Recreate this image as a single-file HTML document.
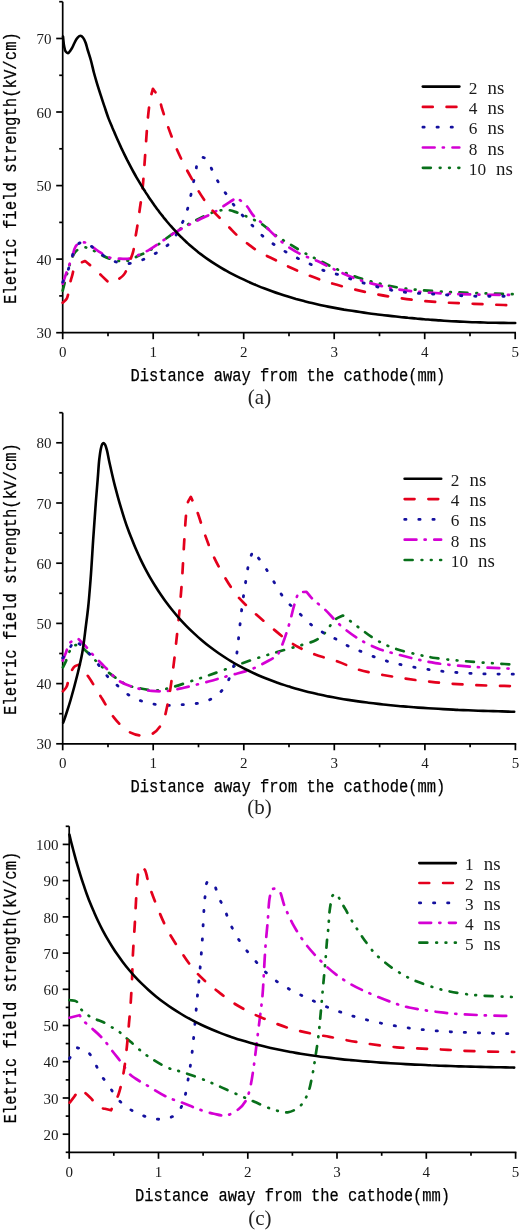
<!DOCTYPE html>
<html><head><meta charset="utf-8"><title>Electric field strength vs distance</title>
<style>
html,body{margin:0;padding:0;background:#fff;}
body{width:520px;height:1231px;overflow:hidden;}
svg{display:block;}
.tk{font-family:"Liberation Serif","Noto Serif CJK SC",serif;font-size:15px;fill:#1a1a1a;}
.lg{font-family:"Liberation Serif","Noto Serif CJK SC",serif;font-size:17.3px;fill:#1a1a1a;}
.lgu{font-family:"Liberation Serif","Noto Serif CJK SC",serif;font-size:18px;fill:#1a1a1a;}
.tt{font-family:"Liberation Mono","Noto Sans CJK SC",monospace;font-size:18.5px;fill:#000;stroke:#000;stroke-width:0.25px;}
.lb{font-family:"Liberation Serif","Noto Serif CJK SC",serif;font-size:21px;fill:#222;}
</style></head>
<body>
<svg width="520" height="1231" viewBox="0 0 520 1231">
<rect width="520" height="1231" fill="#fff"/>
<line x1="62.7" y1="1.7" x2="62.7" y2="332.7" stroke="#000" stroke-width="1.7"/>
<line x1="61.9" y1="332.7" x2="516.0" y2="332.7" stroke="#000" stroke-width="1.7"/>
<line x1="56.2" y1="332.7" x2="62.7" y2="332.7" stroke="#000" stroke-width="1.7"/>
<text x="51.5" y="338.3" class="tk" text-anchor="end">30</text>
<line x1="59.2" y1="295.9" x2="62.7" y2="295.9" stroke="#000" stroke-width="1.7"/>
<line x1="56.2" y1="259.1" x2="62.7" y2="259.1" stroke="#000" stroke-width="1.7"/>
<text x="51.5" y="264.7" class="tk" text-anchor="end">40</text>
<line x1="59.2" y1="222.4" x2="62.7" y2="222.4" stroke="#000" stroke-width="1.7"/>
<line x1="56.2" y1="185.6" x2="62.7" y2="185.6" stroke="#000" stroke-width="1.7"/>
<text x="51.5" y="191.2" class="tk" text-anchor="end">50</text>
<line x1="59.2" y1="148.8" x2="62.7" y2="148.8" stroke="#000" stroke-width="1.7"/>
<line x1="56.2" y1="112.0" x2="62.7" y2="112.0" stroke="#000" stroke-width="1.7"/>
<text x="51.5" y="117.6" class="tk" text-anchor="end">60</text>
<line x1="59.2" y1="75.3" x2="62.7" y2="75.3" stroke="#000" stroke-width="1.7"/>
<line x1="56.2" y1="38.5" x2="62.7" y2="38.5" stroke="#000" stroke-width="1.7"/>
<text x="51.5" y="44.1" class="tk" text-anchor="end">70</text>
<line x1="59.2" y1="1.7" x2="62.7" y2="1.7" stroke="#000" stroke-width="1.7"/>
<line x1="62.7" y1="332.7" x2="62.7" y2="339.2" stroke="#000" stroke-width="1.7"/>
<text x="62.7" y="357.2" class="tk" text-anchor="middle">0</text>
<line x1="108.0" y1="332.7" x2="108.0" y2="336.2" stroke="#000" stroke-width="1.7"/>
<line x1="153.2" y1="332.7" x2="153.2" y2="339.2" stroke="#000" stroke-width="1.7"/>
<text x="153.2" y="357.2" class="tk" text-anchor="middle">1</text>
<line x1="198.5" y1="332.7" x2="198.5" y2="336.2" stroke="#000" stroke-width="1.7"/>
<line x1="243.7" y1="332.7" x2="243.7" y2="339.2" stroke="#000" stroke-width="1.7"/>
<text x="243.7" y="357.2" class="tk" text-anchor="middle">2</text>
<line x1="289.0" y1="332.7" x2="289.0" y2="336.2" stroke="#000" stroke-width="1.7"/>
<line x1="334.2" y1="332.7" x2="334.2" y2="339.2" stroke="#000" stroke-width="1.7"/>
<text x="334.2" y="357.2" class="tk" text-anchor="middle">3</text>
<line x1="379.5" y1="332.7" x2="379.5" y2="336.2" stroke="#000" stroke-width="1.7"/>
<line x1="424.7" y1="332.7" x2="424.7" y2="339.2" stroke="#000" stroke-width="1.7"/>
<text x="424.7" y="357.2" class="tk" text-anchor="middle">4</text>
<line x1="470.0" y1="332.7" x2="470.0" y2="336.2" stroke="#000" stroke-width="1.7"/>
<line x1="515.2" y1="332.7" x2="515.2" y2="339.2" stroke="#000" stroke-width="1.7"/>
<text x="515.2" y="357.2" class="tk" text-anchor="middle">5</text>
<path d="M62.7,290.6 C64.1,285.1 65.5,279.3 67.0,274.0 C68.4,269.2 69.6,264.3 71.2,260.3 C72.5,257.0 73.5,253.8 75.6,251.6 C77.6,249.5 80.8,247.6 83.4,247.3 C85.7,247.0 87.8,248.0 90.3,249.0 C93.7,250.3 97.8,253.3 101.5,255.1 C105.0,256.8 108.4,258.4 111.9,259.4 C115.3,260.4 119.2,261.1 122.3,261.2 C124.8,261.3 126.8,261.0 129.2,260.3 C132.0,259.5 134.8,257.5 137.9,256.0 C141.4,254.3 144.7,253.4 149.1,250.8 C156.5,246.5 168.1,236.4 177.0,230.8 C184.5,226.1 191.7,222.4 198.5,219.0 C204.4,216.1 210.1,213.0 215.4,211.5 C219.7,210.3 223.9,209.7 227.7,210.0 C231.0,210.2 233.7,211.4 236.9,212.5 C240.7,213.8 245.1,215.8 249.2,217.7 C253.3,219.6 257.3,221.1 261.5,223.8 C266.5,227.0 271.9,232.7 276.9,236.2 C281.1,239.2 284.9,241.2 289.2,243.8 C294.0,246.7 299.2,250.0 304.6,253.0 C310.4,256.2 317.5,259.5 323.0,262.3 C327.5,264.6 330.6,266.3 335.4,268.5 C341.9,271.4 349.7,274.9 358.5,277.7 C369.6,281.3 384.1,285.0 397.0,287.3 C409.7,289.5 422.6,290.2 435.4,291.2 C448.2,292.1 460.8,292.5 473.8,293.0 C487.1,293.5 500.7,293.8 514.2,294.2" stroke="#08701a" stroke-width="2.7" fill="none" stroke-linejoin="round" stroke-linecap="round" stroke-dasharray="7.9,9.0,0.7,8.6,0.7,8.6"/>
<path d="M62.7,283.7 C64.7,277.9 66.9,271.1 68.7,266.3 C70.0,262.9 71.0,260.8 72.1,257.7 C73.3,254.2 73.8,249.1 75.6,246.4 C77.0,244.4 79.1,243.5 80.8,242.1 C82.8,242.4 84.6,242.1 86.8,243.0 C90.3,244.4 94.9,249.1 98.9,251.6 C102.7,253.9 106.6,256.6 110.2,257.7 C113.2,258.6 115.8,258.4 118.8,258.6 C122.1,258.8 126.1,259.2 129.2,258.6 C131.8,258.1 133.5,257.1 136.2,256.0 C139.9,254.5 144.2,252.7 149.1,249.9 C156.5,245.7 166.8,237.5 175.4,232.3 C183.2,227.6 191.6,223.5 198.5,220.0 C204.1,217.1 208.8,215.4 213.8,212.5 C219.0,209.5 224.9,205.0 229.2,202.3 C232.2,200.4 234.3,199.2 236.9,197.7 C240.0,200.3 243.4,202.4 246.2,205.4 C249.1,208.5 250.8,212.7 253.8,216.0 C256.9,219.4 261.2,222.2 264.6,225.4 C267.8,228.4 270.4,231.5 273.8,234.6 C277.6,238.1 281.7,242.1 286.2,245.4 C290.9,248.8 296.3,252.0 301.5,254.6 C306.5,257.1 311.8,258.5 316.9,260.8 C322.1,263.1 326.4,265.8 332.3,268.5 C339.8,272.0 348.8,276.4 358.5,279.6 C370.0,283.4 384.1,287.0 397.0,289.2 C409.7,291.4 422.6,292.1 435.4,293.0 C448.2,293.9 460.8,294.2 473.8,294.5 C487.1,294.8 500.7,294.8 514.2,295.0" stroke="#d400d4" stroke-width="2.7" fill="none" stroke-linejoin="round" stroke-linecap="round" stroke-dasharray="11.7,8.2,1.1,8.6"/>
<path d="M62.7,282.0 C64.1,279.1 65.6,276.5 66.9,273.3 C68.5,269.4 69.8,264.7 71.2,260.3 C72.7,255.7 73.4,249.4 75.6,246.4 C77.1,244.4 79.1,243.0 81.0,242.5 C82.6,242.1 84.0,242.2 86.0,243.0 C89.9,244.5 96.8,251.1 101.5,254.2 C105.2,256.6 108.1,258.7 111.9,260.3 C115.9,262.0 120.5,263.5 124.9,263.7 C129.4,263.9 134.5,262.5 138.7,261.2 C142.5,260.1 145.5,258.6 149.1,256.8 C153.3,254.7 158.2,252.1 162.2,249.2 C166.1,246.5 169.8,243.7 172.8,240.1 C175.9,236.4 178.0,231.3 180.2,227.0 C182.2,223.1 184.0,219.6 185.5,215.4 C187.2,210.8 188.5,205.5 189.7,200.6 C190.8,196.0 191.5,191.5 192.5,187.0 C193.4,182.5 194.4,178.0 195.4,173.5 C196.4,169.0 196.6,162.7 198.3,160.0 C199.3,158.4 200.8,158.0 202.0,157.0 C203.5,157.7 205.1,157.7 206.5,159.0 C208.8,161.2 210.6,167.1 212.7,171.2 C214.9,175.4 216.9,179.9 219.4,184.0 C221.9,188.2 225.0,192.3 227.7,196.2 C230.3,199.9 232.6,203.5 235.4,207.0 C238.3,210.6 241.5,214.3 244.6,217.7 C247.6,221.0 250.6,223.8 253.8,227.0 C257.2,230.5 260.9,234.6 264.6,237.7 C268.1,240.6 271.6,242.9 275.4,245.4 C279.3,248.0 283.6,250.7 287.7,253.0 C291.7,255.3 295.6,257.2 299.6,259.2 C303.7,261.2 307.9,263.1 312.1,265.0 C316.3,266.9 320.3,269.2 324.6,270.8 C329.0,272.4 333.2,273.1 338.1,274.6 C344.2,276.5 350.6,279.2 358.5,281.5 C369.3,284.7 384.1,289.1 397.0,291.2 C409.7,293.3 422.6,293.4 435.4,294.2 C448.2,295.0 460.8,295.9 473.8,296.2 C487.1,296.5 500.7,296.2 514.2,296.2" stroke="#14109e" stroke-width="2.8" fill="none" stroke-linejoin="round" stroke-linecap="round" stroke-dasharray="1.3,12.8"/>
<path d="M62.7,302.7 C64.1,301.3 65.8,300.4 66.9,298.4 C68.5,295.4 68.6,289.4 69.5,285.4 C70.3,282.0 71.1,279.1 72.1,275.9 C73.1,272.5 73.4,268.0 75.6,265.5 C77.8,263.1 81.9,262.5 85.1,261.0 C88.0,263.4 90.9,265.8 93.7,268.3 C96.6,270.9 99.6,273.8 102.3,276.4 C104.8,278.8 107.1,281.0 109.5,283.3 C111.3,282.6 112.9,282.4 114.8,281.3 C117.5,279.8 121.6,277.5 124.0,274.5 C126.5,271.3 127.6,266.4 129.2,262.5 C130.6,258.9 132.1,255.7 133.1,251.9 C134.2,247.8 134.5,243.1 135.2,238.7 C135.9,234.2 136.8,229.8 137.5,225.0 C138.3,219.7 139.1,214.1 139.9,208.3 C140.8,202.1 141.8,195.7 142.5,189.2 C143.2,182.4 143.6,175.8 144.2,168.5 C144.8,160.3 145.4,150.9 146.0,142.5 C146.6,134.7 147.0,127.3 147.7,120.0 C148.4,112.9 149.2,104.9 150.3,99.2 C151.1,95.1 152.0,92.3 152.9,88.8 C154.9,91.8 157.5,94.6 159.0,97.9 C160.5,101.2 160.8,104.6 162.0,108.5 C163.6,113.6 165.6,119.8 167.7,125.8 C170.1,132.5 172.8,139.9 175.8,146.9 C178.8,154.0 182.4,161.4 185.8,168.0 C189.0,174.1 193.4,181.5 195.5,185.4 C196.6,187.4 196.8,188.1 197.9,190.0 C200.0,193.6 204.7,200.8 207.7,204.8 C209.9,207.8 211.7,209.7 214.0,212.2 C216.6,215.0 219.9,218.1 222.5,220.7 C224.8,223.0 226.5,224.6 228.9,227.0 C232.0,230.1 236.0,234.6 239.4,237.6 C242.3,240.1 244.9,241.7 247.9,243.9 C251.2,246.3 254.4,249.0 258.5,251.5 C263.7,254.6 271.4,258.0 276.9,260.8 C281.4,263.1 284.1,264.7 289.2,267.0 C297.1,270.6 309.0,275.8 320.0,279.6 C332.0,283.7 345.6,287.4 358.5,290.4 C371.3,293.4 384.1,295.8 397.0,297.7 C409.8,299.6 422.6,300.9 435.4,301.9 C448.2,302.9 460.8,303.2 473.8,303.8 C487.1,304.4 500.7,304.9 514.2,305.4" stroke="#e4001c" stroke-width="2.7" fill="none" stroke-linejoin="round" stroke-linecap="round" stroke-dasharray="9.8,13.9"/>
<path d="M63.0,36.5 C63.4,39.8 63.6,43.8 64.2,46.5 C64.6,48.5 64.9,50.4 65.7,51.5 C66.3,52.3 67.2,53.2 68.0,53.1 C69.0,53.0 70.1,51.0 71.1,49.6 C72.3,47.9 73.2,45.5 74.2,43.5 C75.2,41.6 76.0,39.4 77.2,38.1 C78.1,37.0 79.3,35.8 80.3,35.8 C81.3,35.8 82.4,36.8 83.2,37.8 C84.3,39.0 85.0,41.1 85.7,43.0 C86.5,45.1 86.9,47.5 87.7,50.0 C88.6,53.0 89.8,56.5 90.8,60.0 C91.9,63.9 92.8,68.3 93.8,72.3 C94.8,76.0 95.8,79.4 96.9,83.1 C98.1,87.1 99.5,91.4 100.8,95.4 C102.1,99.3 103.3,103.1 104.6,106.9 C105.9,110.8 107.2,114.9 108.6,118.6 C109.9,121.9 111.3,125.0 112.5,127.9 C113.6,130.4 114.5,132.7 115.5,135.0 C116.5,137.3 117.5,139.6 118.5,141.8 C119.5,144.0 120.5,146.2 121.5,148.4 C122.5,150.5 123.5,152.5 124.5,154.6 C125.5,156.6 126.5,158.7 127.5,160.7 C128.5,162.6 129.5,164.5 130.5,166.4 C131.5,168.3 132.5,170.2 133.5,172.0 C134.5,173.8 135.5,175.6 136.5,177.3 C137.5,179.0 138.5,180.7 139.5,182.4 C140.5,184.1 141.5,185.8 142.5,187.4 C143.5,189.0 144.5,190.5 145.5,192.1 C146.5,193.6 147.5,195.2 148.5,196.7 C149.5,198.2 150.5,199.6 151.5,201.1 C152.5,202.5 153.5,204.0 154.5,205.4 C155.5,206.8 156.5,208.1 157.5,209.5 C158.5,210.8 159.5,212.2 160.5,213.5 C161.5,214.8 162.5,216.0 163.5,217.3 C164.5,218.5 165.5,219.8 166.5,221.0 C167.5,222.2 168.5,223.3 169.5,224.5 C170.5,225.6 171.5,226.8 172.5,227.9 C173.5,229.0 174.5,230.1 175.5,231.2 C176.5,232.3 177.5,233.3 178.5,234.3 C179.5,235.3 180.5,236.4 181.5,237.4 C182.5,238.4 183.5,239.3 184.5,240.3 C185.5,241.2 186.5,242.2 187.5,243.1 C188.5,244.0 189.5,244.8 190.5,245.7 C191.5,246.6 192.5,247.4 193.5,248.3 C194.5,249.1 195.5,250.0 196.5,250.8 C197.5,251.6 198.9,252.7 199.5,253.2 C199.7,253.4 199.7,253.4 200.0,253.6 C201.1,254.4 205.3,257.5 208.0,259.4 C210.6,261.2 213.3,263.0 216.0,264.7 C218.6,266.4 221.3,268.0 224.0,269.5 C226.7,271.0 229.3,272.5 232.0,273.9 C234.7,275.3 237.3,276.6 240.0,277.9 C242.7,279.2 245.3,280.4 248.0,281.6 C250.7,282.8 253.3,284.0 256.0,285.1 C258.7,286.2 261.3,287.3 264.0,288.3 C266.7,289.3 269.3,290.3 272.0,291.3 C274.7,292.3 277.3,293.2 280.0,294.1 C282.7,295.0 285.3,295.8 288.0,296.6 C290.7,297.4 293.3,298.2 296.0,299.0 C298.7,299.7 301.3,300.4 304.0,301.1 C306.7,301.8 309.3,302.5 312.0,303.1 C314.7,303.7 317.3,304.3 320.0,304.9 C322.7,305.5 325.3,306.1 328.0,306.6 C330.7,307.1 333.3,307.6 336.0,308.1 C338.7,308.6 341.3,309.1 344.0,309.6 C346.7,310.0 349.3,310.4 352.0,310.8 C354.7,311.2 357.3,311.6 360.0,312.0 C362.7,312.4 365.3,312.8 368.0,313.2 C370.7,313.6 373.3,313.9 376.0,314.2 C378.7,314.5 381.3,314.9 384.0,315.2 C386.7,315.5 389.3,315.8 392.0,316.1 C394.7,316.4 397.3,316.7 400.0,317.0 C402.7,317.3 405.3,317.5 408.0,317.8 C410.7,318.0 413.3,318.3 416.0,318.5 C418.7,318.7 421.3,319.0 424.0,319.2 C426.7,319.4 429.3,319.7 432.0,319.9 C434.7,320.1 437.3,320.2 440.0,320.4 C442.7,320.6 445.3,320.8 448.0,321.0 C450.7,321.2 453.3,321.3 456.0,321.4 C458.7,321.5 461.3,321.7 464.0,321.8 C466.7,321.9 469.3,322.1 472.0,322.2 C474.7,322.3 477.3,322.3 480.0,322.4 C482.7,322.5 485.3,322.6 488.0,322.7 C490.7,322.8 493.3,322.8 496.0,322.8 C498.7,322.8 501.3,322.9 504.0,322.9 C506.7,322.9 509.9,323.0 512.0,323.0 C513.3,323.0 514.1,323.0 515.2,323.0" stroke="#000000" stroke-width="2.6" fill="none" stroke-linejoin="round" stroke-linecap="round"/>
<line x1="422.8" y1="86.6" x2="459.4" y2="86.6" stroke="#000000" stroke-width="2.6" stroke-linecap="round"/>
<text x="468.8" y="93.6" class="lg">2</text>
<text x="487.5" y="93.6" class="lgu" textLength="16.8" lengthAdjust="spacingAndGlyphs">ns</text>
<line x1="422.9" y1="106.9" x2="459.3" y2="106.9" stroke="#e4001c" stroke-width="2.7" stroke-linecap="round" stroke-dasharray="9.8,13.9"/>
<text x="468.8" y="113.9" class="lg">4</text>
<text x="487.5" y="113.9" class="lgu" textLength="16.8" lengthAdjust="spacingAndGlyphs">ns</text>
<line x1="422.9" y1="127.2" x2="459.3" y2="127.2" stroke="#14109e" stroke-width="2.8" stroke-linecap="round" stroke-dasharray="1.3,12.8"/>
<text x="468.8" y="134.2" class="lg">6</text>
<text x="487.5" y="134.2" class="lgu" textLength="16.8" lengthAdjust="spacingAndGlyphs">ns</text>
<line x1="422.9" y1="147.5" x2="459.3" y2="147.5" stroke="#d400d4" stroke-width="2.7" stroke-linecap="round" stroke-dasharray="11.7,8.2,1.1,8.6"/>
<text x="468.8" y="154.5" class="lg">8</text>
<text x="487.5" y="154.5" class="lgu" textLength="16.8" lengthAdjust="spacingAndGlyphs">ns</text>
<line x1="422.9" y1="167.8" x2="459.3" y2="167.8" stroke="#08701a" stroke-width="2.7" stroke-linecap="round" stroke-dasharray="7.9,9.0,0.7,8.6,0.7,8.6"/>
<text x="468.8" y="174.8" class="lg">10</text>
<text x="496.1" y="174.8" class="lgu" textLength="16.8" lengthAdjust="spacingAndGlyphs">ns</text>
<text x="130.4" y="381.3" class="tt" textLength="315" lengthAdjust="spacingAndGlyphs">Distance away from the cathode(mm)</text>
<text x="16.2" y="304.1" class="tt" transform="rotate(-90 16.2 304.1)" textLength="272" lengthAdjust="spacingAndGlyphs">Eletric field strength(kV/cm)</text>
<text x="259.5" y="403.5" class="lb" text-anchor="middle">(a)</text>
<line x1="62.7" y1="412.7" x2="62.7" y2="743.8" stroke="#000" stroke-width="1.7"/>
<line x1="61.9" y1="743.8" x2="516.2" y2="743.8" stroke="#000" stroke-width="1.7"/>
<line x1="56.2" y1="743.8" x2="62.7" y2="743.8" stroke="#000" stroke-width="1.7"/>
<text x="51.5" y="749.4" class="tk" text-anchor="end">30</text>
<line x1="59.2" y1="713.7" x2="62.7" y2="713.7" stroke="#000" stroke-width="1.7"/>
<line x1="56.2" y1="683.6" x2="62.7" y2="683.6" stroke="#000" stroke-width="1.7"/>
<text x="51.5" y="689.2" class="tk" text-anchor="end">40</text>
<line x1="59.2" y1="653.5" x2="62.7" y2="653.5" stroke="#000" stroke-width="1.7"/>
<line x1="56.2" y1="623.4" x2="62.7" y2="623.4" stroke="#000" stroke-width="1.7"/>
<text x="51.5" y="629.0" class="tk" text-anchor="end">50</text>
<line x1="59.2" y1="593.3" x2="62.7" y2="593.3" stroke="#000" stroke-width="1.7"/>
<line x1="56.2" y1="563.2" x2="62.7" y2="563.2" stroke="#000" stroke-width="1.7"/>
<text x="51.5" y="568.8" class="tk" text-anchor="end">60</text>
<line x1="59.2" y1="533.1" x2="62.7" y2="533.1" stroke="#000" stroke-width="1.7"/>
<line x1="56.2" y1="503.0" x2="62.7" y2="503.0" stroke="#000" stroke-width="1.7"/>
<text x="51.5" y="508.6" class="tk" text-anchor="end">70</text>
<line x1="59.2" y1="472.9" x2="62.7" y2="472.9" stroke="#000" stroke-width="1.7"/>
<line x1="56.2" y1="442.8" x2="62.7" y2="442.8" stroke="#000" stroke-width="1.7"/>
<text x="51.5" y="448.4" class="tk" text-anchor="end">80</text>
<line x1="59.2" y1="412.7" x2="62.7" y2="412.7" stroke="#000" stroke-width="1.7"/>
<line x1="62.7" y1="743.8" x2="62.7" y2="750.3" stroke="#000" stroke-width="1.7"/>
<text x="62.7" y="768.3" class="tk" text-anchor="middle">0</text>
<line x1="108.0" y1="743.8" x2="108.0" y2="747.3" stroke="#000" stroke-width="1.7"/>
<line x1="153.2" y1="743.8" x2="153.2" y2="750.3" stroke="#000" stroke-width="1.7"/>
<text x="153.2" y="768.3" class="tk" text-anchor="middle">1</text>
<line x1="198.5" y1="743.8" x2="198.5" y2="747.3" stroke="#000" stroke-width="1.7"/>
<line x1="243.8" y1="743.8" x2="243.8" y2="750.3" stroke="#000" stroke-width="1.7"/>
<text x="243.8" y="768.3" class="tk" text-anchor="middle">2</text>
<line x1="289.0" y1="743.8" x2="289.0" y2="747.3" stroke="#000" stroke-width="1.7"/>
<line x1="334.3" y1="743.8" x2="334.3" y2="750.3" stroke="#000" stroke-width="1.7"/>
<text x="334.3" y="768.3" class="tk" text-anchor="middle">3</text>
<line x1="379.6" y1="743.8" x2="379.6" y2="747.3" stroke="#000" stroke-width="1.7"/>
<line x1="424.9" y1="743.8" x2="424.9" y2="750.3" stroke="#000" stroke-width="1.7"/>
<text x="424.9" y="768.3" class="tk" text-anchor="middle">4</text>
<line x1="470.1" y1="743.8" x2="470.1" y2="747.3" stroke="#000" stroke-width="1.7"/>
<line x1="515.4" y1="743.8" x2="515.4" y2="750.3" stroke="#000" stroke-width="1.7"/>
<text x="515.4" y="768.3" class="tk" text-anchor="middle">5</text>
<path d="M62.9,667.3 C63.9,665.4 64.9,663.7 65.8,661.5 C66.9,658.8 67.7,655.1 69.1,652.4 C70.3,649.9 71.6,646.9 73.5,645.7 C75.1,644.7 77.3,645.2 79.2,645.0 C81.5,647.0 83.8,648.9 86.0,651.0 C88.3,653.1 90.5,655.5 92.7,657.7 C94.9,659.9 97.0,662.1 99.4,664.4 C102.1,666.9 104.5,669.3 108.1,672.1 C113.1,676.0 121.2,682.3 127.3,685.0 C132.0,687.1 136.1,687.6 140.8,688.5 C145.9,689.5 151.9,690.6 157.0,690.4 C161.7,690.2 165.5,689.0 170.4,687.7 C176.4,686.2 183.6,683.6 190.0,681.5 C196.3,679.5 202.1,677.6 208.5,675.4 C215.4,673.0 222.8,670.3 230.0,667.7 C237.2,665.1 244.1,662.5 251.5,660.0 C259.4,657.3 268.2,654.7 276.2,652.3 C283.6,650.1 290.8,648.3 297.7,646.2 C304.1,644.2 311.3,642.7 316.2,640.0 C320.0,637.8 322.5,635.4 325.4,632.3 C328.7,628.8 331.3,622.9 334.6,620.0 C337.2,617.7 340.2,617.0 343.0,615.5 C348.2,619.4 353.0,623.3 358.5,627.3 C364.5,631.7 371.1,637.1 377.7,640.8 C383.9,644.3 390.4,647.0 396.9,649.2 C403.2,651.4 409.8,652.7 416.2,654.2 C422.6,655.7 427.9,656.9 435.4,658.0 C446.0,659.6 460.8,660.8 473.8,661.9 C487.1,663.0 500.7,663.7 514.2,664.6" stroke="#08701a" stroke-width="2.7" fill="none" stroke-linejoin="round" stroke-linecap="round" stroke-dasharray="7.9,9.0,0.7,8.6,0.7,8.6"/>
<path d="M62.7,660.6 C63.7,658.0 64.7,655.6 65.8,652.9 C67.0,649.9 68.0,645.4 69.6,643.3 C70.7,641.8 72.1,641.2 73.5,640.4 C74.9,639.6 76.4,639.0 77.8,638.3 C80.5,641.1 83.6,643.9 86.0,646.6 C88.1,648.9 89.6,651.0 91.7,653.4 C94.3,656.3 97.8,659.8 100.4,662.5 C102.5,664.7 103.9,666.0 106.2,668.3 C109.7,671.7 114.3,677.8 119.2,681.0 C124.0,684.2 129.9,686.0 135.4,687.7 C140.7,689.3 146.1,690.4 151.5,690.9 C156.9,691.4 162.3,691.4 167.7,690.9 C173.1,690.4 178.0,689.0 183.9,687.7 C191.3,686.0 200.6,683.6 208.5,681.5 C215.9,679.5 222.8,677.4 230.0,675.4 C237.2,673.3 244.1,672.1 251.5,669.2 C259.9,665.9 268.8,660.3 277.5,655.8 C278.6,653.3 279.7,650.9 280.8,648.3 C282.0,645.4 283.2,642.3 284.3,639.2 C285.4,636.1 286.5,632.8 287.5,629.6 C288.5,626.4 289.5,623.4 290.4,620.0 C291.4,616.4 292.3,612.2 293.3,608.5 C294.2,605.1 295.3,601.7 296.2,598.8 C297.0,596.4 297.7,594.5 298.5,592.3 C301.2,592.1 303.8,592.0 306.5,591.8 C308.2,593.8 309.9,596.2 311.5,597.9 C312.8,599.3 313.8,600.1 315.4,601.5 C317.8,603.6 321.2,606.1 324.6,609.2 C329.2,613.4 334.4,620.1 340.0,625.0 C345.7,630.0 352.1,634.8 358.5,638.8 C364.7,642.6 371.2,645.9 377.7,648.5 C384.0,651.0 390.5,652.4 396.9,654.2 C403.3,656.0 409.8,657.7 416.2,659.2 C422.6,660.7 427.9,662.0 435.4,663.1 C446.0,664.7 460.8,666.0 473.8,666.9 C487.1,667.9 500.7,668.2 514.2,668.8" stroke="#d400d4" stroke-width="2.7" fill="none" stroke-linejoin="round" stroke-linecap="round" stroke-dasharray="11.7,8.2,1.1,8.6"/>
<path d="M62.7,658.0 C63.1,657.6 63.3,657.3 63.8,656.7 C64.9,655.3 67.1,652.5 68.7,650.0 C70.6,646.9 72.6,643.0 74.5,639.5 C78.6,643.3 82.8,646.6 86.9,651.0 C91.7,656.0 97.2,663.2 101.3,668.3 C104.5,672.2 107.1,676.3 109.5,678.8 C111.1,680.4 111.9,680.7 113.8,682.3 C117.5,685.3 124.3,692.4 130.0,695.8 C135.2,698.9 140.7,700.9 146.2,702.5 C151.5,704.0 157.2,704.8 162.3,705.2 C167.0,705.6 171.3,705.4 175.8,705.2 C180.3,705.0 184.8,704.4 189.2,703.9 C193.6,703.5 198.1,703.7 202.3,702.5 C206.6,701.3 210.8,699.5 214.6,696.9 C218.6,694.2 222.6,690.3 225.4,686.2 C228.2,682.1 229.7,677.1 231.5,672.3 C233.3,667.4 235.0,662.7 236.2,656.9 C237.7,649.7 238.2,640.7 239.2,632.3 C240.2,623.3 241.1,613.7 242.3,604.6 C243.5,595.8 244.9,586.3 246.2,578.5 C247.2,572.2 247.9,566.5 249.2,561.5 C250.2,557.5 251.7,554.4 252.9,550.8 C255.5,554.2 258.0,557.3 260.6,560.9 C263.5,564.9 266.1,568.8 269.2,573.8 C273.3,580.3 278.8,591.1 283.1,596.9 C286.0,600.9 288.5,603.2 291.5,606.2 C294.6,609.3 298.0,612.2 301.5,615.4 C305.2,618.9 309.0,623.1 313.1,626.2 C317.0,629.2 321.2,631.5 325.4,633.8 C329.5,636.1 333.8,637.9 337.7,640.0 C341.4,642.0 344.9,644.4 348.5,646.2 C351.8,647.9 354.6,648.8 358.5,650.4 C363.9,652.6 371.2,655.9 377.7,658.1 C384.0,660.3 389.3,662.0 396.9,663.8 C407.5,666.3 422.5,668.8 435.4,670.4 C448.2,672.0 460.8,672.9 473.8,673.5 C487.1,674.2 500.7,674.0 514.2,674.2" stroke="#14109e" stroke-width="2.8" fill="none" stroke-linejoin="round" stroke-linecap="round" stroke-dasharray="1.3,12.8"/>
<path d="M62.9,691.3 C64.2,689.7 65.7,688.6 66.7,686.5 C68.1,683.6 68.1,678.5 69.6,675.0 C70.9,671.8 72.8,668.0 74.9,666.3 C76.4,665.1 78.1,665.1 79.7,664.5 C81.3,666.7 82.8,668.8 84.5,671.2 C86.5,674.0 88.7,677.1 90.8,680.3 C93.0,683.8 95.4,688.0 97.5,691.3 C99.2,694.1 100.4,695.9 102.3,699.0 C105.3,703.8 109.5,711.9 113.8,717.3 C117.9,722.4 122.4,727.7 127.3,730.8 C131.5,733.5 136.4,735.2 140.8,735.6 C144.9,735.9 149.4,735.5 152.9,733.5 C156.7,731.4 159.9,727.1 162.3,722.7 C165.1,717.5 166.1,711.2 167.7,703.9 C169.9,694.1 171.5,680.6 173.1,668.9 C174.7,657.2 175.9,644.7 177.1,633.8 C178.1,624.3 179.0,616.0 179.8,607.0 C180.6,598.0 181.3,590.1 182.0,580.0 C182.9,567.0 183.7,548.1 184.6,535.4 C185.2,526.0 185.7,516.9 186.5,510.8 C187.0,507.1 187.1,504.5 188.0,502.0 C188.7,500.0 189.9,498.6 190.8,496.9 C192.8,501.5 194.9,505.5 196.9,510.8 C199.5,517.5 201.8,526.2 204.6,533.8 C207.4,541.5 210.4,549.6 213.8,556.9 C217.1,563.9 220.7,570.4 224.6,576.9 C228.4,583.3 232.3,589.7 236.9,595.4 C241.5,601.1 246.9,605.9 252.3,611.0 C257.9,616.2 263.8,621.1 270.0,626.2 C276.8,631.8 284.1,638.4 291.5,643.1 C298.5,647.5 305.5,650.8 313.1,653.8 C320.9,656.9 329.9,658.8 337.7,661.5 C345.0,664.0 350.4,667.2 358.5,669.6 C369.2,672.7 384.1,675.2 396.9,677.3 C409.7,679.4 422.6,681.0 435.4,682.3 C448.2,683.6 460.8,684.4 473.8,685.0 C487.1,685.7 500.7,685.8 514.2,686.2" stroke="#e4001c" stroke-width="2.7" fill="none" stroke-linejoin="round" stroke-linecap="round" stroke-dasharray="9.8,13.9"/>
<path d="M63.2,722.7 C64.3,719.5 65.4,716.5 66.5,713.0 C67.8,709.0 69.1,705.1 70.6,700.0 C72.6,693.0 75.3,683.0 77.3,675.0 C79.1,667.7 80.7,661.4 82.1,653.8 C83.7,645.0 84.9,633.5 86.0,625.0 C86.9,618.3 87.5,613.7 88.2,607.0 C89.1,598.7 89.8,589.2 90.6,579.2 C91.5,567.4 92.3,553.1 93.1,540.8 C93.9,529.5 94.6,518.7 95.4,508.1 C96.1,498.2 97.0,487.9 97.7,479.2 C98.3,472.1 98.6,465.5 99.2,460.0 C99.7,455.8 100.2,451.9 100.8,449.0 C101.2,447.1 101.6,445.2 102.2,444.2 C102.6,443.6 103.1,443.1 103.5,443.1 C104.0,443.1 104.5,443.8 105.0,444.5 C105.8,445.7 106.3,447.9 106.9,450.2 C107.8,453.5 108.5,458.3 109.4,462.3 C110.3,466.3 111.2,470.3 112.1,474.2 C113.0,478.1 113.9,482.0 114.9,485.8 C115.9,489.6 116.9,493.4 117.9,497.1 C118.9,500.8 120.0,504.5 121.1,508.1 C122.2,511.7 123.2,515.3 124.4,518.8 C125.5,522.3 126.7,525.8 128.0,529.2 C129.2,532.6 130.6,536.0 131.9,539.3 C133.2,542.6 134.5,545.9 135.9,549.1 C137.3,552.3 138.7,555.5 140.2,558.6 C141.7,561.7 143.2,564.8 144.8,567.8 C146.4,570.8 148.0,573.8 149.7,576.8 C151.4,579.7 153.1,582.6 154.9,585.5 C156.7,588.4 158.5,591.2 160.4,594.0 C162.3,596.8 164.2,599.6 166.2,602.3 C168.2,605.0 170.3,607.7 172.4,610.3 C174.5,612.9 176.7,615.6 179.0,618.1 C181.3,620.7 183.6,623.1 186.0,625.6 C188.4,628.1 190.9,630.5 193.5,632.9 C196.1,635.3 198.7,637.7 201.4,640.0 C204.1,642.3 206.9,644.6 209.8,646.8 C212.7,649.0 215.7,651.2 218.7,653.3 C221.8,655.4 225.0,657.5 228.2,659.5 C231.5,661.5 234.8,663.5 238.2,665.3 C241.5,667.1 244.8,668.8 248.2,670.5 C251.5,672.1 254.8,673.7 258.2,675.2 C261.5,676.7 264.9,678.0 268.2,679.3 C271.5,680.6 274.9,681.8 278.2,683.0 C281.5,684.2 284.9,685.2 288.2,686.3 C291.5,687.3 294.9,688.4 298.2,689.3 C301.5,690.2 304.9,691.1 308.2,691.9 C311.5,692.7 314.9,693.5 318.2,694.3 C321.5,695.0 324.9,695.7 328.2,696.4 C331.5,697.0 334.9,697.6 338.2,698.2 C341.5,698.8 344.9,699.4 348.2,699.9 C351.5,700.4 354.9,700.9 358.2,701.4 C361.5,701.9 364.9,702.3 368.2,702.7 C371.5,703.1 374.9,703.5 378.2,703.9 C381.5,704.3 384.9,704.6 388.2,705.0 C391.5,705.3 394.9,705.7 398.2,706.0 C401.5,706.3 404.9,706.5 408.2,706.8 C411.5,707.1 414.9,707.4 418.2,707.6 C421.5,707.8 424.9,708.0 428.2,708.2 C431.5,708.4 434.9,708.6 438.2,708.8 C441.5,709.0 444.9,709.2 448.2,709.4 C451.5,709.6 454.9,709.7 458.2,709.9 C461.5,710.0 464.9,710.2 468.2,710.3 C471.5,710.4 474.9,710.6 478.2,710.7 C481.5,710.8 484.9,710.9 488.2,711.0 C491.5,711.1 494.9,711.2 498.2,711.3 C501.5,711.4 505.3,711.5 508.2,711.6 C510.5,711.7 512.2,711.7 514.2,711.8" stroke="#000000" stroke-width="2.6" fill="none" stroke-linejoin="round" stroke-linecap="round"/>
<line x1="404.6" y1="478.8" x2="441.2" y2="478.8" stroke="#000000" stroke-width="2.6" stroke-linecap="round"/>
<text x="450.8" y="485.8" class="lg">2</text>
<text x="469.5" y="485.8" class="lgu" textLength="16.8" lengthAdjust="spacingAndGlyphs">ns</text>
<line x1="404.7" y1="499.1" x2="441.1" y2="499.1" stroke="#e4001c" stroke-width="2.7" stroke-linecap="round" stroke-dasharray="9.8,13.9"/>
<text x="450.8" y="506.1" class="lg">4</text>
<text x="469.5" y="506.1" class="lgu" textLength="16.8" lengthAdjust="spacingAndGlyphs">ns</text>
<line x1="404.7" y1="519.4" x2="441.1" y2="519.4" stroke="#14109e" stroke-width="2.8" stroke-linecap="round" stroke-dasharray="1.3,12.8"/>
<text x="450.8" y="526.4" class="lg">6</text>
<text x="469.5" y="526.4" class="lgu" textLength="16.8" lengthAdjust="spacingAndGlyphs">ns</text>
<line x1="404.7" y1="539.7" x2="441.1" y2="539.7" stroke="#d400d4" stroke-width="2.7" stroke-linecap="round" stroke-dasharray="11.7,8.2,1.1,8.6"/>
<text x="450.8" y="546.7" class="lg">8</text>
<text x="469.5" y="546.7" class="lgu" textLength="16.8" lengthAdjust="spacingAndGlyphs">ns</text>
<line x1="404.7" y1="560.0" x2="441.1" y2="560.0" stroke="#08701a" stroke-width="2.7" stroke-linecap="round" stroke-dasharray="7.9,9.0,0.7,8.6,0.7,8.6"/>
<text x="450.8" y="567.0" class="lg">10</text>
<text x="478.1" y="567.0" class="lgu" textLength="16.8" lengthAdjust="spacingAndGlyphs">ns</text>
<text x="130.4" y="792.4" class="tt" textLength="315" lengthAdjust="spacingAndGlyphs">Distance away from the cathode(mm)</text>
<text x="16.2" y="715" class="tt" transform="rotate(-90 16.2 715)" textLength="272" lengthAdjust="spacingAndGlyphs">Eletric field strength(kV/cm)</text>
<text x="259.5" y="813.6" class="lb" text-anchor="middle">(b)</text>
<line x1="69.2" y1="826.3" x2="69.2" y2="1152.3" stroke="#000" stroke-width="1.7"/>
<line x1="68.4" y1="1152.3" x2="516.4" y2="1152.3" stroke="#000" stroke-width="1.7"/>
<line x1="65.7" y1="1152.3" x2="69.2" y2="1152.3" stroke="#000" stroke-width="1.7"/>
<line x1="62.7" y1="1134.2" x2="69.2" y2="1134.2" stroke="#000" stroke-width="1.7"/>
<text x="58.6" y="1139.8" class="tk" text-anchor="end">20</text>
<line x1="65.7" y1="1116.1" x2="69.2" y2="1116.1" stroke="#000" stroke-width="1.7"/>
<line x1="62.7" y1="1098.0" x2="69.2" y2="1098.0" stroke="#000" stroke-width="1.7"/>
<text x="58.6" y="1103.6" class="tk" text-anchor="end">30</text>
<line x1="65.7" y1="1079.9" x2="69.2" y2="1079.9" stroke="#000" stroke-width="1.7"/>
<line x1="62.7" y1="1061.7" x2="69.2" y2="1061.7" stroke="#000" stroke-width="1.7"/>
<text x="58.6" y="1067.3" class="tk" text-anchor="end">40</text>
<line x1="65.7" y1="1043.6" x2="69.2" y2="1043.6" stroke="#000" stroke-width="1.7"/>
<line x1="62.7" y1="1025.5" x2="69.2" y2="1025.5" stroke="#000" stroke-width="1.7"/>
<text x="58.6" y="1031.1" class="tk" text-anchor="end">50</text>
<line x1="65.7" y1="1007.4" x2="69.2" y2="1007.4" stroke="#000" stroke-width="1.7"/>
<line x1="62.7" y1="989.3" x2="69.2" y2="989.3" stroke="#000" stroke-width="1.7"/>
<text x="58.6" y="994.9" class="tk" text-anchor="end">60</text>
<line x1="65.7" y1="971.2" x2="69.2" y2="971.2" stroke="#000" stroke-width="1.7"/>
<line x1="62.7" y1="953.1" x2="69.2" y2="953.1" stroke="#000" stroke-width="1.7"/>
<text x="58.6" y="958.7" class="tk" text-anchor="end">70</text>
<line x1="65.7" y1="935.0" x2="69.2" y2="935.0" stroke="#000" stroke-width="1.7"/>
<line x1="62.7" y1="916.9" x2="69.2" y2="916.9" stroke="#000" stroke-width="1.7"/>
<text x="58.6" y="922.5" class="tk" text-anchor="end">80</text>
<line x1="65.7" y1="898.7" x2="69.2" y2="898.7" stroke="#000" stroke-width="1.7"/>
<line x1="62.7" y1="880.6" x2="69.2" y2="880.6" stroke="#000" stroke-width="1.7"/>
<text x="58.6" y="886.2" class="tk" text-anchor="end">90</text>
<line x1="65.7" y1="862.5" x2="69.2" y2="862.5" stroke="#000" stroke-width="1.7"/>
<line x1="62.7" y1="844.4" x2="69.2" y2="844.4" stroke="#000" stroke-width="1.7"/>
<text x="58.6" y="850.0" class="tk" text-anchor="end">100</text>
<line x1="65.7" y1="826.3" x2="69.2" y2="826.3" stroke="#000" stroke-width="1.7"/>
<line x1="69.2" y1="1152.3" x2="69.2" y2="1158.8" stroke="#000" stroke-width="1.7"/>
<text x="69.2" y="1176.8" class="tk" text-anchor="middle">0</text>
<line x1="113.8" y1="1152.3" x2="113.8" y2="1155.8" stroke="#000" stroke-width="1.7"/>
<line x1="158.5" y1="1152.3" x2="158.5" y2="1158.8" stroke="#000" stroke-width="1.7"/>
<text x="158.5" y="1176.8" class="tk" text-anchor="middle">1</text>
<line x1="203.1" y1="1152.3" x2="203.1" y2="1155.8" stroke="#000" stroke-width="1.7"/>
<line x1="247.8" y1="1152.3" x2="247.8" y2="1158.8" stroke="#000" stroke-width="1.7"/>
<text x="247.8" y="1176.8" class="tk" text-anchor="middle">2</text>
<line x1="292.4" y1="1152.3" x2="292.4" y2="1155.8" stroke="#000" stroke-width="1.7"/>
<line x1="337.0" y1="1152.3" x2="337.0" y2="1158.8" stroke="#000" stroke-width="1.7"/>
<text x="337.0" y="1176.8" class="tk" text-anchor="middle">3</text>
<line x1="381.7" y1="1152.3" x2="381.7" y2="1155.8" stroke="#000" stroke-width="1.7"/>
<line x1="426.3" y1="1152.3" x2="426.3" y2="1158.8" stroke="#000" stroke-width="1.7"/>
<text x="426.3" y="1176.8" class="tk" text-anchor="middle">4</text>
<line x1="471.0" y1="1152.3" x2="471.0" y2="1155.8" stroke="#000" stroke-width="1.7"/>
<line x1="515.6" y1="1152.3" x2="515.6" y2="1158.8" stroke="#000" stroke-width="1.7"/>
<text x="515.6" y="1176.8" class="tk" text-anchor="middle">5</text>
<path d="M69.4,1000.0 C71.8,1000.5 74.7,1000.2 76.5,1001.5 C78.4,1002.9 78.7,1006.3 80.4,1008.5 C82.4,1011.0 85.4,1013.6 88.1,1015.4 C90.6,1017.1 93.2,1018.0 95.8,1019.2 C98.3,1020.3 101.0,1021.1 103.5,1022.3 C106.1,1023.6 108.6,1025.4 111.2,1026.9 C113.7,1028.4 116.5,1029.8 118.8,1031.5 C121.0,1033.1 122.9,1035.1 125.0,1036.9 C127.1,1038.7 129.1,1040.4 131.2,1042.3 C133.4,1044.3 135.4,1046.3 138.0,1048.5 C141.2,1051.1 144.7,1054.1 148.9,1056.9 C154.2,1060.5 161.6,1065.1 167.7,1067.7 C173.0,1070.0 177.6,1070.5 183.1,1072.3 C189.7,1074.5 197.2,1077.1 204.6,1080.0 C212.6,1083.2 221.0,1087.2 229.2,1090.8 C237.4,1094.4 246.2,1098.3 253.8,1101.5 C260.4,1104.3 266.3,1107.4 272.3,1109.2 C277.6,1110.8 283.0,1112.9 287.7,1112.3 C292.1,1111.7 296.7,1109.2 300.0,1106.2 C303.4,1103.1 305.7,1098.5 307.7,1093.8 C310.0,1088.4 311.0,1081.6 312.3,1075.4 C313.6,1069.3 314.4,1063.3 315.4,1056.9 C316.5,1050.0 317.6,1042.8 318.5,1035.4 C319.5,1027.5 320.1,1019.0 320.9,1010.8 C321.7,1002.6 322.3,994.5 323.1,986.2 C323.9,977.6 324.8,968.0 325.5,960.0 C326.1,953.3 326.4,947.4 326.9,941.5 C327.4,936.2 328.1,931.0 328.5,926.2 C328.9,921.9 328.9,917.8 329.3,913.8 C329.7,910.1 330.2,906.3 330.8,903.1 C331.3,900.5 331.4,897.6 332.3,896.0 C332.9,894.9 333.8,894.5 334.6,893.8 C335.4,894.1 336.1,894.0 336.9,894.6 C338.3,895.7 339.4,899.1 340.8,901.5 C342.3,904.0 343.9,906.6 345.4,909.2 C347.0,911.9 348.3,914.8 350.0,917.7 C351.9,920.9 354.1,924.5 356.2,927.7 C358.2,930.8 360.2,933.9 362.3,936.9 C364.3,939.8 366.4,942.7 368.5,945.5 C370.5,948.2 372.4,950.8 374.6,953.2 C376.7,955.5 378.9,957.3 381.5,959.5 C384.6,962.1 387.9,964.9 391.9,967.7 C396.8,971.1 403.3,975.2 409.2,978.1 C414.9,980.9 420.7,983.0 426.5,985.0 C432.2,987.0 438.1,988.8 443.8,990.2 C449.3,991.5 454.4,992.4 460.0,993.3 C465.9,994.2 471.3,994.8 478.5,995.4 C488.5,996.2 502.3,996.5 514.2,997.1" stroke="#08701a" stroke-width="2.7" fill="none" stroke-linejoin="round" stroke-linecap="round" stroke-dasharray="7.9,9.0,0.7,8.6,0.7,8.6"/>
<path d="M69.4,1017.7 C72.8,1016.9 76.2,1016.0 79.6,1015.2 C80.9,1017.1 81.8,1018.9 83.5,1020.8 C85.5,1023.1 88.5,1025.3 91.2,1027.7 C94.1,1030.4 97.7,1033.4 100.4,1036.2 C102.7,1038.6 104.5,1040.6 106.5,1043.1 C108.6,1045.7 110.6,1048.8 112.7,1051.5 C114.7,1054.1 116.9,1056.8 118.8,1059.2 C120.5,1061.4 121.8,1063.1 123.5,1065.4 C125.5,1068.1 126.9,1071.6 130.0,1074.5 C134.4,1078.7 142.6,1082.7 148.9,1086.5 C155.1,1090.3 161.6,1094.5 167.7,1097.3 C173.0,1099.8 177.9,1101.0 183.0,1103.0 C188.2,1105.0 193.3,1107.4 198.5,1109.2 C203.6,1111.0 208.9,1112.8 213.8,1113.8 C218.1,1114.7 222.2,1116.1 226.2,1115.4 C230.4,1114.7 235.1,1111.9 238.5,1109.2 C241.7,1106.7 244.2,1103.7 246.2,1100.0 C248.5,1095.7 249.6,1090.0 250.8,1084.6 C252.1,1078.8 252.8,1072.8 253.8,1066.2 C254.9,1058.6 255.9,1049.7 256.9,1041.5 C257.9,1033.3 259.0,1024.8 260.0,1016.9 C260.9,1009.5 261.9,1002.4 262.5,995.4 C263.1,988.8 263.3,983.2 263.7,976.0 C264.2,967.1 264.8,955.7 265.5,946.2 C266.1,937.6 267.0,929.7 267.7,921.5 C268.4,913.3 268.6,902.7 269.8,896.9 C270.5,893.6 270.7,890.3 272.3,889.2 C273.7,888.3 276.8,888.5 278.5,889.8 C281.4,892.1 282.3,900.7 284.6,906.2 C286.9,911.8 289.3,917.4 292.3,923.1 C295.6,929.2 299.8,936.0 303.8,941.5 C307.3,946.4 310.9,950.5 314.6,954.6 C318.1,958.5 321.7,962.0 325.4,965.4 C328.9,968.7 332.2,971.6 336.2,974.6 C340.8,978.0 346.2,981.6 351.5,984.6 C356.9,987.7 362.3,990.1 368.5,992.8 C375.6,996.0 384.6,999.7 391.9,1002.3 C398.0,1004.5 402.4,1006.0 409.2,1007.5 C418.7,1009.6 432.2,1011.4 443.8,1012.7 C455.3,1014.0 466.8,1014.5 478.5,1015.1 C490.3,1015.7 502.3,1015.8 514.2,1016.2" stroke="#d400d4" stroke-width="2.7" fill="none" stroke-linejoin="round" stroke-linecap="round" stroke-dasharray="11.7,8.2,1.1,8.6"/>
<path d="M69.4,1058.5 C71.7,1054.8 74.0,1051.2 76.3,1047.5 C79.7,1048.5 83.6,1048.4 86.5,1050.5 C89.7,1052.8 91.9,1057.6 94.2,1061.5 C96.6,1065.5 98.0,1070.4 100.4,1074.4 C102.8,1078.3 105.9,1081.5 108.5,1085.2 C111.2,1089.1 113.5,1093.7 116.5,1097.3 C119.4,1100.8 122.4,1104.0 126.0,1106.7 C129.6,1109.4 133.9,1111.6 138.1,1113.5 C142.4,1115.4 147.0,1117.4 151.5,1118.3 C155.9,1119.2 160.7,1119.7 165.0,1118.9 C169.2,1118.1 174.0,1116.5 177.1,1113.5 C180.4,1110.3 182.1,1105.3 183.9,1100.0 C186.2,1093.2 187.3,1083.7 188.7,1075.8 C190.0,1068.4 191.0,1061.8 191.9,1054.2 C193.0,1045.7 193.7,1036.7 194.6,1027.3 C195.6,1017.0 196.6,1004.5 197.5,995.0 C198.2,987.5 198.9,981.7 199.5,975.0 C200.1,968.3 200.7,961.5 201.2,955.0 C201.7,948.8 202.1,943.6 202.5,936.9 C203.0,928.6 203.5,916.8 204.0,909.2 C204.4,903.8 204.6,900.0 205.2,895.4 C205.8,890.8 205.6,882.8 207.7,881.5 C209.0,880.7 211.6,881.7 213.2,883.1 C215.7,885.4 216.6,892.5 218.5,896.9 C220.4,901.2 222.8,905.1 224.6,909.2 C226.4,913.3 227.4,917.4 229.2,921.5 C231.0,925.7 233.1,929.7 235.4,933.8 C237.7,938.0 240.4,942.5 243.1,946.2 C245.6,949.6 248.1,952.2 250.8,955.4 C253.7,958.9 256.9,962.8 260.0,966.2 C263.0,969.5 265.8,972.5 269.2,975.4 C272.9,978.6 277.3,981.9 281.5,984.6 C285.5,987.2 289.7,989.3 293.8,991.5 C297.9,993.6 301.3,995.2 306.2,997.5 C313.0,1000.7 322.3,1005.2 330.8,1008.5 C339.7,1011.9 348.4,1014.9 358.5,1017.7 C370.2,1020.9 384.0,1024.0 396.9,1026.2 C409.7,1028.4 422.6,1029.7 435.4,1030.8 C448.2,1031.9 460.8,1032.2 473.8,1032.7 C487.1,1033.2 500.7,1033.4 514.2,1033.8" stroke="#14109e" stroke-width="2.8" fill="none" stroke-linejoin="round" stroke-linecap="round" stroke-dasharray="1.3,12.8"/>
<path d="M69.6,1102.6 C71.2,1100.6 72.9,1098.6 74.4,1096.5 C75.9,1094.4 77.1,1092.0 78.5,1089.8 C79.6,1090.0 80.5,1089.9 81.8,1090.5 C84.1,1091.6 87.8,1095.2 90.6,1097.9 C93.5,1100.7 95.8,1105.6 98.6,1107.3 C100.7,1108.6 102.9,1108.3 105.0,1108.8 C107.0,1109.3 109.0,1109.8 111.0,1110.3 C112.3,1107.5 113.7,1104.8 115.0,1102.0 C116.3,1099.2 117.7,1097.1 118.8,1093.5 C120.7,1087.8 122.6,1078.5 123.9,1070.8 C125.2,1063.2 125.9,1055.3 126.8,1047.5 C127.6,1039.8 128.3,1032.0 128.9,1024.2 C129.6,1016.6 130.3,1009.2 130.8,1001.5 C131.3,993.7 131.7,985.5 132.1,977.6 C132.4,969.9 132.5,962.9 132.9,954.6 C133.4,944.7 134.3,933.1 134.9,922.3 C135.5,911.5 136.0,899.3 136.7,890.0 C137.3,882.9 137.5,875.4 138.6,871.2 C139.2,869.0 140.1,867.9 140.8,866.3 C142.1,867.5 143.7,868.0 144.8,869.8 C146.7,872.9 147.2,879.2 148.9,884.6 C151.0,891.2 153.9,898.8 156.9,906.2 C160.1,914.1 163.6,922.7 167.7,930.4 C171.7,937.9 176.6,945.1 181.2,951.9 C185.5,958.3 189.7,964.7 194.2,970.0 C198.3,974.8 202.7,978.9 206.9,982.7 C210.8,986.1 214.4,988.8 218.5,991.9 C222.9,995.3 227.1,998.9 232.3,1002.3 C238.4,1006.3 246.9,1010.7 253.1,1013.8 C257.9,1016.2 261.3,1017.5 266.2,1019.5 C272.5,1022.1 280.2,1025.4 287.7,1027.7 C295.6,1030.2 304.8,1032.2 312.3,1033.8 C318.5,1035.1 323.1,1035.7 329.6,1036.9 C338.0,1038.4 348.2,1040.7 358.5,1042.3 C370.4,1044.2 384.1,1046.1 396.9,1047.3 C409.7,1048.4 422.6,1048.5 435.4,1049.2 C448.2,1049.8 460.8,1050.7 473.8,1051.2 C487.1,1051.7 500.7,1051.7 514.2,1052.0" stroke="#e4001c" stroke-width="2.7" fill="none" stroke-linejoin="round" stroke-linecap="round" stroke-dasharray="9.8,13.9"/>
<path d="M69.4,834.5 C70.2,838.0 71.0,841.5 71.9,844.9 C72.8,848.3 73.7,851.7 74.6,855.1 C75.5,858.5 76.4,861.8 77.4,865.2 C78.4,868.5 79.4,871.9 80.4,875.2 C81.4,878.5 82.5,881.7 83.6,884.9 C84.7,888.1 85.7,891.3 86.9,894.5 C88.0,897.6 89.2,900.7 90.5,903.8 C91.7,906.9 93.1,909.9 94.4,912.9 C95.7,915.9 97.0,918.8 98.4,921.7 C99.8,924.6 101.2,927.5 102.7,930.3 C104.2,933.1 105.7,935.9 107.3,938.6 C108.9,941.3 110.5,944.0 112.2,946.7 C113.9,949.4 115.6,952.0 117.4,954.6 C119.2,957.2 121.0,959.7 122.9,962.2 C124.8,964.7 126.7,967.1 128.7,969.5 C130.7,971.9 132.8,974.3 134.9,976.6 C137.0,978.9 139.2,981.2 141.5,983.4 C143.8,985.6 146.1,987.8 148.5,990.0 C150.9,992.2 153.4,994.3 156.0,996.4 C158.6,998.5 161.2,1000.5 163.9,1002.5 C166.6,1004.5 169.4,1006.5 172.3,1008.4 C175.2,1010.3 178.2,1012.2 181.2,1014.0 C184.3,1015.9 187.5,1017.7 190.7,1019.4 C194.0,1021.2 197.3,1022.9 200.7,1024.5 C204.0,1026.1 207.4,1027.6 210.7,1029.0 C214.0,1030.4 217.4,1031.8 220.7,1033.1 C224.0,1034.4 227.4,1035.5 230.7,1036.7 C234.0,1037.8 237.4,1039.0 240.7,1040.0 C244.0,1041.0 247.4,1042.0 250.7,1042.9 C254.0,1043.8 257.4,1044.8 260.7,1045.6 C264.0,1046.4 267.4,1047.1 270.7,1047.9 C274.0,1048.6 277.4,1049.4 280.7,1050.1 C284.0,1050.8 287.4,1051.4 290.7,1052.0 C294.0,1052.6 297.4,1053.1 300.7,1053.7 C304.0,1054.2 307.4,1054.8 310.7,1055.3 C314.0,1055.8 317.4,1056.3 320.7,1056.7 C324.0,1057.1 327.4,1057.5 330.7,1057.9 C334.0,1058.3 337.4,1058.7 340.7,1059.1 C344.0,1059.5 347.4,1059.8 350.7,1060.1 C354.0,1060.4 357.4,1060.7 360.7,1061.0 C364.0,1061.3 367.4,1061.5 370.7,1061.8 C374.0,1062.1 377.4,1062.4 380.7,1062.6 C384.0,1062.8 387.4,1063.0 390.7,1063.2 C394.0,1063.4 397.4,1063.6 400.7,1063.8 C404.0,1064.0 407.4,1064.2 410.7,1064.4 C414.0,1064.6 417.4,1064.7 420.7,1064.8 C424.0,1065.0 427.4,1065.1 430.7,1065.3 C434.0,1065.4 437.4,1065.6 440.7,1065.7 C444.0,1065.8 447.4,1065.9 450.7,1066.0 C454.0,1066.1 457.4,1066.3 460.7,1066.4 C464.0,1066.5 467.4,1066.5 470.7,1066.6 C474.0,1066.7 477.4,1066.8 480.7,1066.9 C484.0,1067.0 487.4,1067.0 490.7,1067.1 C494.0,1067.2 497.4,1067.2 500.7,1067.3 C504.0,1067.4 508.2,1067.4 510.7,1067.5 C512.2,1067.5 513.0,1067.6 514.2,1067.6" stroke="#000000" stroke-width="2.6" fill="none" stroke-linejoin="round" stroke-linecap="round"/>
<line x1="419.3" y1="863.1" x2="455.9" y2="863.1" stroke="#000000" stroke-width="2.6" stroke-linecap="round"/>
<text x="465.0" y="870.1" class="lg">1</text>
<text x="483.7" y="870.1" class="lgu" textLength="16.8" lengthAdjust="spacingAndGlyphs">ns</text>
<line x1="419.4" y1="883.0" x2="455.8" y2="883.0" stroke="#e4001c" stroke-width="2.7" stroke-linecap="round" stroke-dasharray="9.8,13.9"/>
<text x="465.0" y="890.0" class="lg">2</text>
<text x="483.7" y="890.0" class="lgu" textLength="16.8" lengthAdjust="spacingAndGlyphs">ns</text>
<line x1="419.4" y1="902.9" x2="455.8" y2="902.9" stroke="#14109e" stroke-width="2.8" stroke-linecap="round" stroke-dasharray="1.3,12.8"/>
<text x="465.0" y="909.9" class="lg">3</text>
<text x="483.7" y="909.9" class="lgu" textLength="16.8" lengthAdjust="spacingAndGlyphs">ns</text>
<line x1="419.4" y1="922.8" x2="455.8" y2="922.8" stroke="#d400d4" stroke-width="2.7" stroke-linecap="round" stroke-dasharray="11.7,8.2,1.1,8.6"/>
<text x="465.0" y="929.8" class="lg">4</text>
<text x="483.7" y="929.8" class="lgu" textLength="16.8" lengthAdjust="spacingAndGlyphs">ns</text>
<line x1="419.4" y1="942.7" x2="455.8" y2="942.7" stroke="#08701a" stroke-width="2.7" stroke-linecap="round" stroke-dasharray="7.9,9.0,0.7,8.6,0.7,8.6"/>
<text x="465.0" y="949.7" class="lg">5</text>
<text x="483.7" y="949.7" class="lgu" textLength="16.8" lengthAdjust="spacingAndGlyphs">ns</text>
<text x="135" y="1200.9" class="tt" textLength="315" lengthAdjust="spacingAndGlyphs">Distance away from the cathode(mm)</text>
<text x="16.2" y="1123.6" class="tt" transform="rotate(-90 16.2 1123.6)" textLength="272" lengthAdjust="spacingAndGlyphs">Eletric field strength(kV/cm)</text>
<text x="259.8" y="1224.6" class="lb" text-anchor="middle">(c)</text>
</svg>
</body></html>
